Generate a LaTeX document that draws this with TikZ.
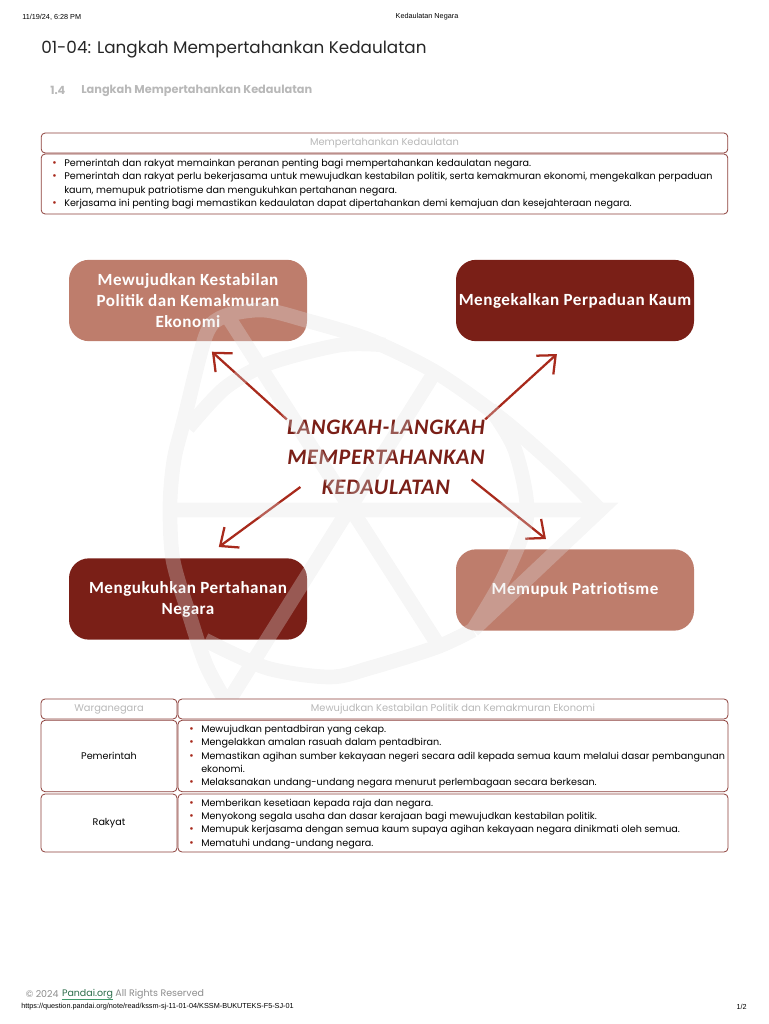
\documentclass[tikz,border=0pt]{standalone}
\usepackage{fontspec}
\setmainfont{Poppins}
\newfontfamily\liberfont{Liberation Sans}
\newfontfamily\handfont[LetterSpace=3]{Carlito}
\usepackage{xcolor}
\definecolor{kdark}{HTML}{7A1F17}
\definecolor{klight}{HTML}{BE7D6C}
\definecolor{karrow}{HTML}{A82A1C}
\definecolor{ktitle}{HTML}{7A1F17}
\definecolor{kline}{HTML}{8C3F3A}
\definecolor{kgrey}{HTML}{B8B8B8}
\definecolor{kgreen}{HTML}{3F9A6A}
\usetikzlibrary{positioning,arrows.meta}
\tikzset{
  stepbox/.style ={rectangle, rounded corners=15pt, minimum width=178.5pt, minimum height=61pt,
                   align=center, text=white, inner sep=0pt,
                   execute at begin node={\vspace*{2pt}},
                   font=\handfont\bfseries\fontsize{12.8}{15.8}\selectfont},
  darkbox/.style ={stepbox, fill=kdark},
  lightbox/.style={stepbox, fill=klight},
  langline/.style={text=ktitle, inner sep=0pt, font=\handfont\bfseries\itshape\fontsize{16.6}{18}\selectfont},
  arr/.style     ={-{Straight Barb[length=11pt, width=19pt]}, line width=1.7pt, draw=karrow},
  wm/.style      ={draw=black!12, line width=11pt},
  tcell/.style   ={draw=kline, rounded corners=3pt, fill=white, line width=.6pt, inner sep=0pt,
                   font=\fontsize{7.2}{10}\selectfont},
  thead/.style   ={tcell, text=kgrey, font=\fontsize{7.4}{10}\selectfont},
  tlist/.style   ={anchor=north west, align=left, inner sep=0pt,
                   font=\fontsize{7.2}{10}\selectfont},
  pagefont/.style={inner sep=0pt, font=\liberfont\fontsize{5.45}{6}\selectfont},
}
\newcommand{\bul}{\makebox[9pt][l]{\textcolor{karrow}{\fontsize{8}{8}\selectfont\textbullet}}}
\newcommand{\ind}{\hspace*{9pt}}
\begin{document}
\begin{tikzpicture}[x=.75pt, y=-.75pt]
  \useasboundingbox (0,0) rectangle (768,1024);
  % page head
  \node[pagefont, anchor=west] (pdate) at (22,17) {11/19/24, 6:28 PM};
  \node[pagefont] (pname) at (427,17) {Kedaulatan Negara};
  \node[anchor=west, inner sep=0pt, text=black!85, font=\fontsize{12.6}{15}\selectfont] (pagehead) at (41,49.5)
        {01-04: Langkah Mempertahankan Kedaulatan};
  \node[anchor=west, inner sep=0pt, text=kgrey, font=\bfseries\fontsize{8.5}{10}\selectfont] (secno) at (50,90.5) {1.4};
  \node[anchor=west, inner sep=0pt, text=kgrey, font=\bfseries\fontsize{8.5}{10}\selectfont] (sechead) at (81,90.5)
        {Langkah Mempertahankan Kedaulatan};
  % top table
  \node[thead, minimum width=515pt, minimum height=15pt] (tophead) at (384.5,143) {Mempertahankan Kedaulatan};
  \node[tcell, minimum width=515pt, minimum height=45pt] (topbody) at (384.5,184) {};
  \node[tlist] (toplist) at (52,159)
        {\bul Pemerintah dan rakyat memainkan peranan penting bagi mempertahankan kedaulatan negara.\\
         \bul Pemerintah dan rakyat perlu bekerjasama untuk mewujudkan kestabilan politik, serta kemakmuran ekonomi, mengekalkan perpaduan\\
         \ind kaum, memupuk patriotisme dan mengukuhkan pertahanan negara.\\
         \bul Kerjasama ini penting bagi memastikan kedaulatan dapat dipertahankan demi kemajuan dan kesejahteraan negara.};
  % diagram
  \node[lightbox] (kestabilan) at (188,300.5) {Mewujudkan Kestabilan\\Politik dan Kemakmuran\\Ekonomi};
  \node[darkbox]  (perpaduan) at (575,300.5) {Mengekalkan Perpaduan Kaum};
  \node[darkbox]  (pertahanan) at (188,599) {Mengukuhkan Pertahanan\\Negara};
  \node[lightbox] (patriotisme) at (575,590) {Memupuk Patriotisme};
  \node[langline] (langa) at (386,427) {LANGKAH-LANGKAH};
  \node[langline] (langb) at (386,457) {MEMPERTAHANKAN};
  \node[langline, inner xsep=16pt] (langc) at (386,487) {KEDAULATAN};
  \draw[arr, shorten >=11.5pt] (langa.north west) -- (kestabilan.-73.5);
  \draw[arr, shorten >=14pt]   (langa.north east) -- (perpaduan.-96);
  \draw[arr, shorten >=14pt] (langc.west) -- (pertahanan.69.7);
  \draw[arr, shorten >=12pt] (langc.5) -- (patriotisme.112);
  % watermark
  \begin{scope}[transparency group, opacity=.3]
    \clip (100,290) rectangle (640,698);
    \draw[wm] plot[smooth] coordinates {(232,712) (207,667) (190,617) (173,560) (170,505) (174,460) (184,420) (206,335) (225,316) (263,310) (305,320) (370,340) (437,373) (503,420) (560,470) (600,510)};
    \draw[wm, line join=miter] (168,510) -- (600,510) -- (473,630);
    \draw[wm] (230,320) -- (437,643);
    \draw[wm] (433,375) -- (228,702);
    \draw[wm] plot[smooth] coordinates {(188,428) (225,388) (270,363) (340,345) (385,345)};
    \draw[wm] plot[smooth] coordinates {(490,408) (515,450) (527,515) (505,575) (473,630)};
    \draw[wm] plot[smooth] coordinates {(205,640) (267,668) (330,677) (370,668) (437,647) (473,630)};
  \end{scope}
  % bottom table
  \node[thead, minimum width=102pt, minimum height=15pt] (warga) at (109,709) {Warganegara};
  \node[thead, minimum width=412.5pt, minimum height=15pt] (wujud) at (453,709) {Mewujudkan Kestabilan Politik dan Kemakmuran Ekonomi};
  \node[tcell, minimum width=102pt, minimum height=53.5pt] (kerajaan) at (109,756) {Pemerintah};
  \node[tcell, minimum width=412.5pt, minimum height=53.5pt] (kerajaanbody) at (453,756) {};
  \node[tcell, minimum width=102pt, minimum height=43.5pt] (rakyat) at (109,823) {Rakyat};
  \node[tcell, minimum width=412.5pt, minimum height=43.5pt] (rakyatbody) at (453,823) {};
  \node[tlist] (kerajaanlist) at (189,725)
        {\bul Mewujudkan pentadbiran yang cekap.\\
         \bul Mengelakkan amalan rasuah dalam pentadbiran.\\
         \bul Memastikan agihan sumber kekayaan negeri secara adil kepada semua kaum melalui dasar pembangunan\\
         \ind ekonomi.\\
         \bul Melaksanakan undang-undang negara menurut perlembagaan secara berkesan.};
  \node[tlist] (rakyatlist) at (189,798.5)
        {\bul Memberikan kesetiaan kepada raja dan negara.\\
         \bul Menyokong segala usaha dan dasar kerajaan bagi mewujudkan kestabilan politik.\\
         \bul Memupuk kerjasama dengan semua kaum supaya agihan kekayaan negara dinikmati oleh semua.\\
         \bul Mematuhi undang-undang negara.};
  % page foot
  \node[anchor=west, inner sep=0pt, text=black!45, font=\fontsize{7.1}{9}\selectfont] (copyr) at (25.5,994.5) {© 2024};
  \node[right=2.2pt of copyr, inner sep=0pt, text=kgreen!70!black, font=\fontsize{7.1}{9}\selectfont] (pandai) {Pandai.org};
  \node[right=1.4pt of pandai, inner sep=0pt, text=black!45, font=\fontsize{7.1}{9}\selectfont] (rights) {All Rights Reserved};
  \draw[kgreen, line width=.6pt] (pandai.south west) -- (pandai.south east);
  \node[pagefont, anchor=west] (purl) at (21,1007) {https://question.pandai.org/note/read/kssm-sj-11-01-04/KSSM-BUKUTEKS-F5-SJ-01};
  \node[pagefont, anchor=east] (pnum) at (747,1007) {1/2};
\end{tikzpicture}
\end{document}
